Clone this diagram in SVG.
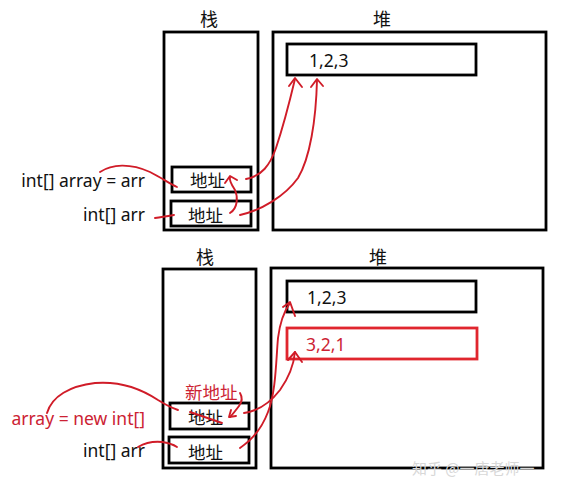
<svg xmlns="http://www.w3.org/2000/svg" width="563" height="490" viewBox="0 0 563 490">
<style>
.box{fill:none;stroke:#000;stroke-width:2.8}
.rbox{fill:none;stroke:#e0262e;stroke-width:2.8}
.t{font-family:"Noto Sans","Noto Sans CJK SC",sans-serif;font-size:17.5px;fill:#111}
.c{font-family:"Noto Sans CJK SC","Noto Sans",sans-serif;font-size:17.5px;fill:#111}
.h{font-family:"Noto Sans CJK SC","Noto Sans",sans-serif;font-size:18px;fill:#111;text-anchor:middle}
.red{fill:#cc2233}
.ln{fill:none;stroke:#d01c28;stroke-width:1.9;stroke-linecap:round;stroke-linejoin:round}
.wm{font-family:"Noto Sans CJK SC","Noto Sans",sans-serif;font-size:15px;fill:#d8d8d8}
</style>
<rect width="563" height="490" fill="#fff"/>

<!-- top panel -->
<g id="top-stack">
<text class="h" x="209" y="26">栈</text>
<rect class="box" x="164" y="32" width="94" height="198"/>
</g>
<g id="top-heap">
<text class="h" x="382" y="26">堆</text>
<rect class="box" x="273" y="32" width="273" height="198"/>
</g>
<g id="top-arr123">
<rect class="box" x="287" y="44" width="189" height="31"/>
<text class="t" x="309" y="67">1,2,3</text>
</g>
<g id="top-addr1">
<rect class="box" x="172" y="167" width="79" height="25"/>
<text class="c" x="190" y="187">地址</text>
</g>
<g id="top-addr2">
<rect class="box" x="171" y="201" width="80" height="25"/>
<text class="c" x="188" y="222">地址</text>
</g>
<g id="top-label-array">
<text class="t" x="145" y="187" text-anchor="end">int[] array = arr</text>
</g>
<g id="top-label-arr">
<text class="t" x="145" y="221" text-anchor="end">int[] arr</text>
</g>

<!-- bottom panel -->
<g id="bot-stack">
<text class="h" x="205" y="264">栈</text>
<rect class="box" x="163" y="269" width="93" height="199"/>
</g>
<g id="bot-heap">
<text class="h" x="378" y="264">堆</text>
<rect class="box" x="271" y="268" width="272" height="200"/>
</g>
<g id="bot-arr123">
<rect class="box" x="287" y="281" width="189" height="31"/>
<text class="t" x="307" y="304">1,2,3</text>
</g>
<g id="bot-arr321">
<rect class="rbox" x="287" y="328" width="190" height="31"/>
<text class="t red" x="306" y="351">3,2,1</text>
</g>
<g id="bot-addr1">
<rect class="box" x="170" y="403" width="79" height="26"/>
<text class="c" x="188" y="424">地址</text>
</g>
<g id="bot-addr2">
<rect class="box" x="169" y="437" width="80" height="26"/>
<text class="c" x="188" y="459">地址</text>
</g>
<g id="bot-newaddr">
<text class="c red" x="185" y="399">新地址</text>
</g>
<g id="bot-label-array">
<text class="t red" x="145" y="425" text-anchor="end">array = new int[]</text>
</g>
<g id="bot-label-arr">
<text class="t" x="145" y="457" text-anchor="end">int[] arr</text>
</g>

<text class="wm" x="412" y="474">知乎 @一唐老师一</text>

<g id="connectors">
<!-- top -->
<path class="ln" d="M100,172 C112,164 130,163 150,172 C162,178 170,184 177,187"/>
<path class="ln" d="M155,218 C162,217 168,216 174,215"/>
<path class="ln" d="M246,179 C262,176 270,165 276,148 C284,124 290,100 295,79"/>
<path class="ln" d="M289,86 L295,78 L302,87"/>
<path class="ln" d="M240,215 C262,210 285,196 298,178 C310,158 316,120 317,80"/>
<path class="ln" d="M311,87 L317,79 L323,86"/>
<path class="ln" d="M230,213 C238,208 238,197 235,190 C231,184 229,180 230,177"/>
<path class="ln" d="M225,183 L230,176 L237,180"/>
<!-- bottom -->
<path class="ln" d="M47,413 C52,396 70,386 95,383 C120,381 140,388 158,400 C166,405 172,408 178,410"/>
<path class="ln" d="M138,447 C145,443 152,441 162,442 C170,443 174,445 177,447"/>
<path class="ln" d="M190,412 L222,423"/>
<path class="ln" d="M240,393 C243,398 242,402 239,406 C236,410 233,414 230,417"/>
<path class="ln" d="M231,410 L229,417 L236,416"/>
<path class="ln" d="M244,413 C258,411 270,403 280,390 C290,376 294,362 295,352"/>
<path class="ln" d="M288,360 L295,352 L302,362"/>
<path class="ln" d="M240,448 C252,440 262,428 268,412 C276,392 276,360 278,338 C280,322 285,310 290,303"/>
<path class="ln" d="M283,307 L290,302 L295,316"/>
</g>
</svg>
